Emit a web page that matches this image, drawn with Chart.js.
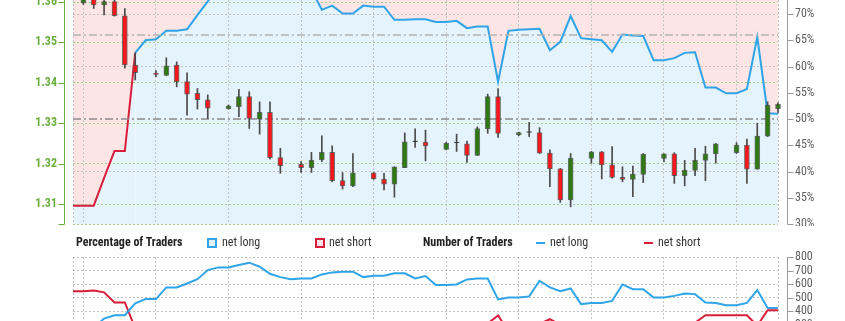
<!DOCTYPE html>
<html>
<head>
<meta charset="utf-8">
<script src="https://cdn.jsdelivr.net/npm/chart.js"></script>
<style>
html, body { margin: 0; padding: 0; width: 845px; height: 321px; overflow: hidden; background: #fff; }
#wrap { position: relative; width: 845px; height: 321px; overflow: hidden; }
canvas { position: absolute; left: 0; }
#priceChart { top: -20px; }
#traderChart { top: 237px; }
.lg { position: absolute; top: 235px; height: 15px; line-height: 15px; font-family: 'Roboto Condensed', Roboto, sans-serif; font-size: 12px; color: #333; white-space: nowrap; z-index: 2; }
.lg.title { font-weight: bold; color: #222; }
.box { position: absolute; top: 238px; width: 6px; height: 6px; border: 2px solid; z-index: 2; }
.dash { position: absolute; top: 242px; width: 9px; height: 2px; z-index: 2; }
</style>
</head>
<body>
<div id="wrap">
  <canvas id="priceChart" width="845" height="246"></canvas>
  <canvas id="traderChart" width="845" height="130"></canvas>

  <span class="lg title" style="left:76px">Percentage of Traders</span>
  <span class="box" style="left:207px; border-color:#2fa4e7; background:#dff0fb"></span>
  <span class="lg" style="left:222px">net long</span>
  <span class="box" style="left:315px; border-color:#d81e3a; background:#fbe1e3"></span>
  <span class="lg" style="left:329px">net short</span>

  <span class="lg title" style="left:423px">Number of Traders</span>
  <span class="dash" style="left:536px; background:#2fa4e7"></span>
  <span class="lg" style="left:550px">net long</span>
  <span class="dash" style="left:644px; background:#d81e3a"></span>
  <span class="lg" style="left:658px">net short</span>
</div>

<script>
// day slots: 0 = first Sunday in view, gridlines every week, Saturdays have no candle
const candleDays = [0, 1, 2, 3, 4, 5, 7, 8, 9, 10, 11, 12, 14, 15, 16, 17, 18, 19, 21, 22, 23, 24, 25, 26,
    28, 29, 30, 31, 32, 33, 35, 36, 37, 38, 39, 40, 42, 43, 44, 45, 46, 47, 49, 50, 51, 52, 53, 54,
    56, 57, 58, 59, 60, 61, 63, 64, 65, 66, 67];

const open = [1.3598, 1.3612, 1.3593, 1.3601, 1.3566, 1.3444, 1.3423, 1.3418, 1.3444, 1.3403, 1.3374, 1.3358,
    1.3336, 1.3341, 1.3366, 1.3310, 1.3327, 1.3215, 1.3198, 1.3190, 1.3209, 1.3228, 1.3158, 1.3145,
    1.3177, 1.3162, 1.3149, 1.3190, 1.3254, 1.3253, 1.3235, 1.3251, 1.3249, 1.3220, 1.3286, 1.3366,
    1.3271, 1.3277, 1.3277, 1.3226, 1.3187, 1.3110, 1.3213, 1.3229, 1.3197, 1.3166, 1.3161, 1.3173,
    1.3213, 1.3224, 1.3170, 1.3183, 1.3208, 1.3224, 1.3227, 1.3246, 1.3186, 1.3268, 1.3336];
const high = [1.3625, 1.3620, 1.3612, 1.3608, 1.3584, 1.3474, 1.3430, 1.3462, 1.3452, 1.3425, 1.3386, 1.3370,
    1.3345, 1.3384, 1.3378, 1.3353, 1.3353, 1.3238, 1.3205, 1.3228, 1.3269, 1.3244, 1.3178, 1.3225,
    1.3178, 1.3176, 1.3192, 1.3276, 1.3286, 1.3283, 1.3253, 1.3273, 1.3256, 1.3291, 1.3372, 1.3386,
    1.3278, 1.3302, 1.3289, 1.3234, 1.3188, 1.3225, 1.3230, 1.3230, 1.3242, 1.3192, 1.3194, 1.3225,
    1.3224, 1.3227, 1.3208, 1.3238, 1.3243, 1.3250, 1.3252, 1.3261, 1.3300, 1.3353, 1.3351];
const low = [1.3594, 1.3584, 1.3568, 1.3565, 1.3436, 1.3407, 1.3415, 1.3418, 1.3390, 1.3320, 1.3335, 1.3312,
    1.3335, 1.3316, 1.3287, 1.3273, 1.3211, 1.3176, 1.3178, 1.3178, 1.3205, 1.3155, 1.3137, 1.3143,
    1.3161, 1.3135, 1.3117, 1.3190, 1.3240, 1.3207, 1.3234, 1.3230, 1.3203, 1.3220, 1.3275, 1.3265,
    1.3269, 1.3267, 1.3225, 1.3143, 1.3104, 1.3093, 1.3201, 1.3162, 1.3164, 1.3155, 1.3118, 1.3153,
    1.3205, 1.3151, 1.3145, 1.3170, 1.3158, 1.3201, 1.3225, 1.3151, 1.3186, 1.3267, 1.3327];
const close = [1.3615, 1.3593, 1.3601, 1.3566, 1.3444, 1.3425, 1.3421, 1.3442, 1.3403, 1.3372, 1.3358, 1.3337,
    1.3343, 1.3366, 1.3312, 1.3327, 1.3215, 1.3195, 1.3190, 1.3209, 1.3228, 1.3158, 1.3145, 1.3177,
    1.3162, 1.3149, 1.3192, 1.3254, 1.3254, 1.3244, 1.3250, 1.3251, 1.3220, 1.3287, 1.3366, 1.3275,
    1.3277, 1.3277, 1.3226, 1.3187, 1.3110, 1.3213, 1.3229, 1.3197, 1.3166, 1.3161, 1.3174, 1.3223,
    1.3224, 1.3170, 1.3184, 1.3208, 1.3224, 1.3249, 1.3246, 1.3186, 1.3268, 1.3345, 1.3347];

// sentiment series, one value per day slot from -1 to 67
const sentimentDays = Array.from({ length: 69 }, (_, i) => i - 1);
const pctLong = [33.5, 33.5, 33.5, 38.8, 43.9, 43.9, 62.6, 65.0, 65.2, 66.8, 66.8, 67.1, 69.8, 72.4,
    75.0, 75.0, 76.0, 76.5, 75.5, 74.0, 73.5, 73.5, 74.0, 74.6, 70.8, 71.6, 70.1, 70.1, 71.6, 71.4,
    71.4, 68.9, 68.9, 69.0, 69.0, 68.5, 68.5, 68.7, 67.3, 67.6, 67.6, 57.1, 66.8, 67.0, 67.1, 67.2,
    63.1, 64.7, 69.6, 65.4, 65.2, 65.0, 62.8, 66.1, 65.9, 65.8, 61.2, 61.2, 61.6, 62.6, 62.7, 56.0,
    56.0, 54.9, 54.9, 55.7, 65.6, 51.1, 51.0];
const longCount = [276, 276, 278, 344, 369, 369, 456, 488, 488, 575, 575, 604, 636, 703, 723, 723, 741,
    758, 728, 676, 651, 636, 641, 641, 671, 686, 691, 691, 651, 661, 661, 679, 679, 641, 659, 592,
    592, 597, 634, 641, 641, 486, 500, 500, 508, 624, 575, 547, 567, 451, 460, 460, 475, 597, 562,
    562, 500, 500, 512, 530, 525, 463, 460, 443, 443, 460, 555, 423, 423];
const shortCount = [547, 547, 552, 538, 463, 463, 272, 263, 260, 286, 286, 296, 275, 266, 241, 241, 234,
    233, 236, 238, 235, 229, 225, 219, 277, 272, 295, 295, 258, 265, 265, 306, 306, 288, 296, 272,
    272, 272, 308, 307, 307, 367, 249, 246, 249, 305, 339, 298, 248, 239, 245, 248, 281, 306, 291,
    292, 318, 318, 318, 305, 312, 369, 369, 369, 369, 369, 291, 406, 406];

const weekTicks = [0, 7, 14, 21, 28, 35, 42, 49, 56, 63];
const priceTicks = [1.31, 1.32, 1.33, 1.34, 1.35, 1.36];
const pctTicks = [30, 35, 40, 45, 50, 55, 60, 65, 70];
const pctGrid = [40, 60, 70];
const countTicks = [0, 100, 200, 300, 400, 500, 600, 700, 800];
const midLevel = 50;
const upperLevel = 66;

const dayRange = [-1, 67];
const priceRange = [1.30505, 1.3605];
const pctRange = [30, 72.67];
const countRange = [0, 800];

const BLUE = "#2fa4e7";
const RED = "#d81e3a";
const GREEN_TXT = "#6aae3e";
const UP = "#2d7a10";
const DOWN = "#f3181c";

Chart.defaults.font.family = "'Roboto Condensed', Roboto, sans-serif";
Chart.defaults.font.size = 12;

// axis line with tick marks, a few px away from the plot edge
const axisLines = {
    id: "axisLines",
    afterDraw(chart, args, opts) {
        const { ctx, chartArea } = chart;
        ctx.save();
        (opts.lines || []).forEach((l) => {
            const scale = chart.scales[l.scale];
            ctx.strokeStyle = l.color;
            ctx.lineWidth = 1;
            ctx.beginPath();
            ctx.moveTo(l.x + 0.5, chartArea.top);
            ctx.lineTo(l.x + 0.5, chartArea.bottom + 0.5);
            scale.ticks.forEach((t) => {
                let y = Math.round(scale.getPixelForValue(t.value)) + 0.5;
                ctx.moveTo(l.x + 0.5, y);
                ctx.lineTo(l.x + 0.5 + l.dir * 6, y);
            });
            ctx.stroke();
        });
        ctx.restore();
    },
};

// fixed side widths, no extra room for the end labels
function fixWidth(w){
    return (s) => {
        s.width = w;
        s.paddingTop = 0;
        s.paddingBottom = 0;
    };
}

function candleFill(i){
    if(close[i] > open[i]) return UP;
    if(close[i] < open[i]) return DOWN;
    return "#111";
}

function dayScale(){
    return {
        type: "linear",
        min: dayRange[0],
        max: dayRange[1],
        offset: false,
        afterBuildTicks: (s) => { s.ticks = [dayRange[0], ...weekTicks, dayRange[1]].map((v) => ({ value: v })); },
        afterFit: (s) => { s.height = 0; s.paddingLeft = 0; s.paddingRight = 0; },
        ticks: { display: false },
        grid: { color: "#c2c2c2", drawTicks: false, offset: false },
        border: { display: false, dash: [2, 2] },
    };
}

new Chart(document.getElementById("priceChart"), {
    type: "bar",
    data: {
        datasets: [
            {
                type: "bar",
                label: "body",
                data: candleDays.map((d, i) => ({ x: d, y: [open[i], close[i]] })),
                yAxisID: "yPrice",
                backgroundColor: (ctx) => candleFill(ctx.dataIndex),
                borderColor: "rgba(70,70,70,0.75)",
                borderWidth: 1,
                borderSkipped: false,
                barThickness: 5,
                minBarLength: 1,
                grouped: false,
                clip: false,
                order: 1,
            },
            {
                type: "bar",
                label: "wick",
                data: candleDays.map((d, i) => ({ x: d, y: [low[i], high[i]] })),
                yAxisID: "yPrice",
                backgroundColor: "#4a4a4a",
                barThickness: 1,
                grouped: false,
                clip: false,
                order: 2,
            },
            {
                type: "line",
                label: "50%",
                data: [{ x: dayRange[0], y: midLevel }, { x: dayRange[1], y: midLevel }],
                yAxisID: "yPct",
                borderColor: "#8a8a8a",
                borderWidth: 1.6,
                borderDash: [8, 3, 2, 3],
                pointRadius: 0,
                order: 3,
            },
            {
                type: "line",
                label: "level",
                data: [{ x: dayRange[0], y: upperLevel }, { x: dayRange[1], y: upperLevel }],
                yAxisID: "yPct",
                borderColor: "#b2b2b2",
                borderWidth: 1.4,
                borderDash: [8, 3, 2, 3],
                pointRadius: 0,
                order: 3,
            },
            {
                type: "line",
                label: "net long",
                data: sentimentDays.map((d, i) => ({ x: d, y: pctLong[i] })),
                yAxisID: "yPct",
                borderColor: BLUE,
                segment: { borderColor: (ctx) => (ctx.p0.parsed.y < 50 ? RED : BLUE) },
                borderWidth: 2,
                pointRadius: 0,
                fill: "start",
                backgroundColor: "#e5f3fc",
                order: 4,
            },
            {
                type: "line",
                label: "net short",
                data: sentimentDays.map((d, i) => ({ x: d, y: pctLong[i] })),
                yAxisID: "yPct",
                borderWidth: 0,
                borderColor: "transparent",
                pointRadius: 0,
                fill: "end",
                backgroundColor: "#fde4e5",
                order: 5,
            },
        ],
    },
    options: {
        responsive: false,
        animation: false,
        devicePixelRatio: 1,
        layout: { autoPadding: false, padding: { top: 20, left: 0, right: 0, bottom: 2 } },
        plugins: {
            legend: { display: false },
            tooltip: { enabled: false },
            filler: { drawTime: "beforeDraw" },
            axisLines: { lines: [
                { scale: "yPrice", x: 64, dir: -1, color: "#6aae3e" },
                { scale: "yPct", x: 787, dir: 1, color: "#9a9a9a" },
            ] },
        },
        scales: {
            x: dayScale(),
            yPrice: {
                position: "left",
                min: priceRange[0],
                max: priceRange[1],
                afterBuildTicks: (s) => { s.ticks = [priceRange[0], ...priceTicks].map((v) => ({ value: v })); },
                afterFit: fixWidth(73),
                ticks: {
                    color: GREEN_TXT,
                    font: { weight: "bold" },
                    padding: 16,
                    autoSkip: false,
                    callback: (v) => (priceTicks.includes(v) ? v.toFixed(2) : ""),
                },
                grid: { color: "#a3d08a", drawTicks: false },
                border: { display: false, dash: [2, 2] },
            },
            yPct: {
                position: "right",
                min: pctRange[0],
                max: pctRange[1],
                afterBuildTicks: (s) => { s.ticks = pctTicks.map((v) => ({ value: v })); },
                afterFit: fixWidth(67),
                ticks: { color: "#5f5f5f", padding: 17, autoSkip: false, callback: (v) => v + "%" },
                grid: {
                    color: (ctx) => (pctGrid.includes(ctx.tick && ctx.tick.value) ? "#c2c2c2" : "transparent"),
                    drawTicks: false,
                },
                border: { display: false, dash: [2, 2] },
            },
        },
    },
    plugins: [axisLines],
});

new Chart(document.getElementById("traderChart"), {
    type: "line",
    data: {
        datasets: [
            {
                label: "net long",
                data: sentimentDays.map((d, i) => ({ x: d, y: longCount[i] })),
                borderColor: BLUE,
                borderWidth: 2,
                pointRadius: 0,
                yAxisID: "yCount",
            },
            {
                label: "net short",
                data: sentimentDays.map((d, i) => ({ x: d, y: shortCount[i] })),
                borderColor: RED,
                borderWidth: 2,
                pointRadius: 0,
                yAxisID: "yCount",
            },
        ],
    },
    options: {
        responsive: false,
        animation: false,
        devicePixelRatio: 1,
        layout: { autoPadding: false, padding: { top: 20, left: 73, right: 0, bottom: 2 } },
        plugins: {
            legend: { display: false },
            tooltip: { enabled: false },
            axisLines: { lines: [{ scale: "yCount", x: 787, dir: 1, color: "#9a9a9a" }] },
        },
        scales: {
            x: dayScale(),
            yCount: {
                position: "right",
                min: countRange[0],
                max: countRange[1],
                afterBuildTicks: (s) => { s.ticks = countTicks.map((v) => ({ value: v })); },
                afterFit: fixWidth(67),
                ticks: { color: "#5f5f5f", padding: 17, autoSkip: false },
                grid: { color: "#c2c2c2", drawTicks: false },
                border: { display: false, dash: [2, 2] },
            },
        },
    },
    plugins: [axisLines],
});
</script>
</body>
</html>
